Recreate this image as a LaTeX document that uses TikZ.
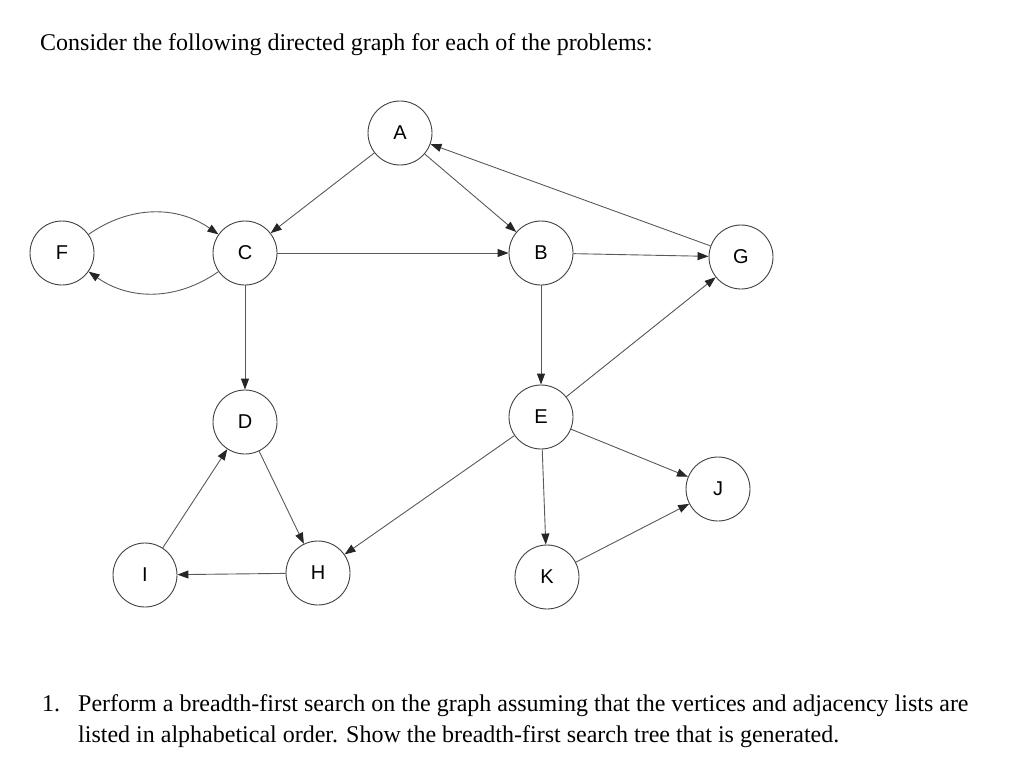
\documentclass[tikz,border=0pt]{standalone}
\usepackage{fontspec}
\setmainfont{Liberation Serif}
\newfontfamily\nodefont{Liberation Sans}
\usetikzlibrary{arrows.meta}
\begin{document}
\begin{tikzpicture}[x=1pt,y=-1pt,
  v/.style={circle,draw=black!75,line width=0.9pt,minimum size=64pt,inner sep=0pt,font=\nodefont\fontsize{20}{20}\selectfont},
  e/.style={draw=black!65,line width=0.9pt,-{Triangle[length=11pt,width=8pt,color=black!85]}},
  txt/.style={anchor=base west,inner sep=0pt,font=\fontsize{24}{27}\selectfont}]
\useasboundingbox (0,0) rectangle (1024,778);
\node[txt] (t1) at (40,51) {Consider the following directed graph for each of the problems:};
\node[txt] (t2) at (42,711) {1.};
\node[txt] (t3) at (78,711) {Perform a breadth-first search on the graph assuming that the vertices and adjacency lists are};
\node[txt] (t4) at (78,742) {listed in alphabetical order. Show the breadth-first search tree that is generated.};
\node[v] (A) at (400,133) {A};
\node[v] (F) at (62,253) {F};
\node[v] (C) at (245,253) {C};
\node[v] (B) at (541,253) {B};
\node[v] (G) at (741,257) {G};
\node[v] (D) at (245,422) {D};
\node[v] (E) at (541,417) {E};
\node[v] (J) at (718,489) {J};
\node[v] (I) at (145,575) {I};
\node[v] (H) at (318,573) {H};
\node[v] (K) at (547,577) {K};
\draw[e] (A) -- (C);
\draw[e] (A) -- (B);
\draw[e] (G) -- (A);
\draw[e] (F) to[bend left=35] (C);
\draw[e] (C) to[bend left=35] (F);
\draw[e] (C) -- (B);
\draw[e] (B) -- (G);
\draw[e] (B) -- (E);
\draw[e] (E) -- (G);
\draw[e] (C) -- (D);
\draw[e] (D) -- (H);
\draw[e] (I) -- (D);
\draw[e] (H) -- (I);
\draw[e] (E) -- (H);
\draw[e] (E) -- (J);
\draw[e] (E) -- (K);
\draw[e] (K) -- (J);
\end{tikzpicture}
\end{document}
